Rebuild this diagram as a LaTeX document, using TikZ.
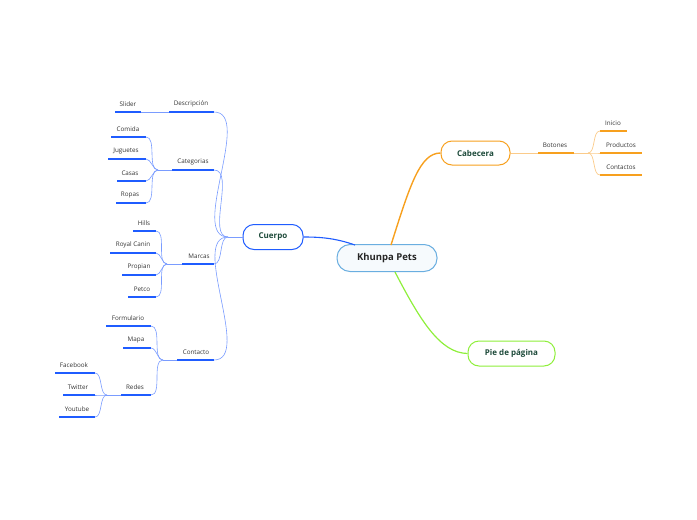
\documentclass[tikz,border=0pt]{standalone}
\usepackage{fontspec}
\setmainfont{Open Sans}
\definecolor{cblue}{HTML}{1F5CFF}
\definecolor{lblue}{HTML}{7A9CFF}
\definecolor{corange}{HTML}{F7A01E}
\definecolor{lorange}{HTML}{FBCB8A}
\definecolor{cgreen}{HTML}{8EEF3A}
\definecolor{ttxt}{HTML}{1D4A3A}
\definecolor{sky}{HTML}{6AAEE0}
\newcommand\leaf[7]{% name, x1, x2, y, text, color, textx
  \coordinate (#1-l) at (#2,#4);
  \coordinate (#1-r) at (#3,#4);
  \draw[#6,line width=1.4pt] (#1-l) -- (#1-r);
  \node[lbl] (#1) at (#7,#4-8) {#5};
}
\begin{document}
\begin{tikzpicture}[x=1pt,y=-1pt,
  lbl/.style={font=\fontsize{6.3}{7}\selectfont,text=black!80,inner sep=0pt},
  topic/.style={draw,rounded corners=11pt,line width=1pt,fill=white,font=\bfseries\fontsize{8}{9}\selectfont,text=ttxt,inner sep=0pt},
  bl/.style={lblue,line width=0.6pt},
  ol/.style={lorange,line width=0.7pt},
  cv/.style={out=180,in=0,looseness=0.8}]
\useasboundingbox (0,0) rectangle (697,520);
% central
\node[topic,draw=sky,fill=sky!6,text=black!85,font=\bfseries\fontsize{9.5}{11}\selectfont,minimum width=100pt,minimum height=27pt,rounded corners=13pt] (root) at (387,258) {Khunpa Pets};
\node[topic,draw=cblue,minimum width=60pt,minimum height=25pt] (cuerpo) at (273,237) {Cuerpo};
\node[topic,draw=corange,minimum width=69pt,minimum height=24pt] (cab) at (475.5,153) {Cabecera};
\node[topic,draw=cgreen,minimum width=87pt,minimum height=25pt] (pie) at (511.5,353.5) {Pie de página};
\draw[cblue,line width=1.1pt] (355,245) .. controls (335,238) and (320,237) .. (cuerpo.east);
\draw[corange,line width=1.4pt] (391,245) .. controls (410,185) and (420,153) .. (cab.west);
\draw[cgreen,line width=1.2pt] (395,272) .. controls (420,320) and (440,353) .. (pie.west);
% Cuerpo subtree
\leaf{desc}{169}{214}{112}{Descripción}{cblue}{191}
\leaf{slider}{115}{141}{112}{Slider}{cblue}{128}
\leaf{cat}{172}{214}{170}{Categorias}{cblue}{193}
\leaf{comida}{111}{146}{137}{Comida}{cblue}{128}
\leaf{jug}{108}{146}{159}{Juguetes}{cblue}{126}
\leaf{casas}{117}{146}{181}{Casas}{cblue}{130}
\leaf{ropas}{116}{146}{203}{Ropas}{cblue}{130}
\leaf{marcas}{182}{214}{264}{Marcas}{cblue}{199}
\leaf{hills}{133}{156}{231}{Hills}{cblue}{144}
\leaf{royal}{110}{156}{253}{Royal Canin}{cblue}{133}
\leaf{propian}{122}{156}{275}{Propian}{cblue}{139}
\leaf{petco}{128}{156}{297}{Petco}{cblue}{142}
\leaf{cont}{177}{214}{360}{Contacto}{cblue}{196}
\leaf{form}{106}{151}{326}{Formulario}{cblue}{128}
\leaf{mapa}{123}{151}{348}{Mapa}{cblue}{136}
\leaf{redes}{121}{151}{395}{Redes}{cblue}{135}
\leaf{fb}{55}{95}{373}{Facebook}{cblue}{74}
\leaf{tw}{63}{95}{395}{Twitter}{cblue}{78}
\leaf{yt}{59}{95}{417}{Youtube}{cblue}{77}
\coordinate (jc) at (228,237);
\draw[bl] (cuerpo.west) -- (jc);
\foreach \t in {desc,cat,marcas,cont} \draw[bl] (jc) to[cv] (\t-r);
\draw[bl] (desc-l) -- (slider-r);
\coordinate (j1) at (158,170);
\draw[bl] (cat-l) -- (j1);
\foreach \t in {comida,jug,casas,ropas} \draw[bl] (j1) to[cv] (\t-r);
\coordinate (j2) at (167,264);
\draw[bl] (marcas-l) -- (j2);
\foreach \t in {hills,royal,propian,petco} \draw[bl] (j2) to[cv] (\t-r);
\coordinate (j3) at (163,360);
\draw[bl] (cont-l) -- (j3);
\foreach \t in {form,mapa,redes} \draw[bl] (j3) to[cv] (\t-r);
\coordinate (j4) at (107,395);
\draw[bl] (redes-l) -- (j4);
\foreach \t in {fb,tw,yt} \draw[bl] (j4) to[cv] (\t-r);
% Cabecera subtree
\leaf{bot}{538}{574}{153}{Botones}{corange}{555}
\leaf{ini}{600}{627}{131}{Inicio}{corange}{613}
\leaf{prod}{600}{642}{153}{Productos}{corange}{621}
\leaf{contc}{600}{642}{175}{Contactos}{corange}{621}
\draw[ol] (cab.east) -- (bot-l);
\coordinate (j5) at (588,153);
\draw[ol] (bot-r) -- (j5);
\foreach \t in {ini,prod,contc} \draw[ol] (j5) to[out=0,in=180,looseness=0.8] (\t-l);
\end{tikzpicture}
\end{document}
